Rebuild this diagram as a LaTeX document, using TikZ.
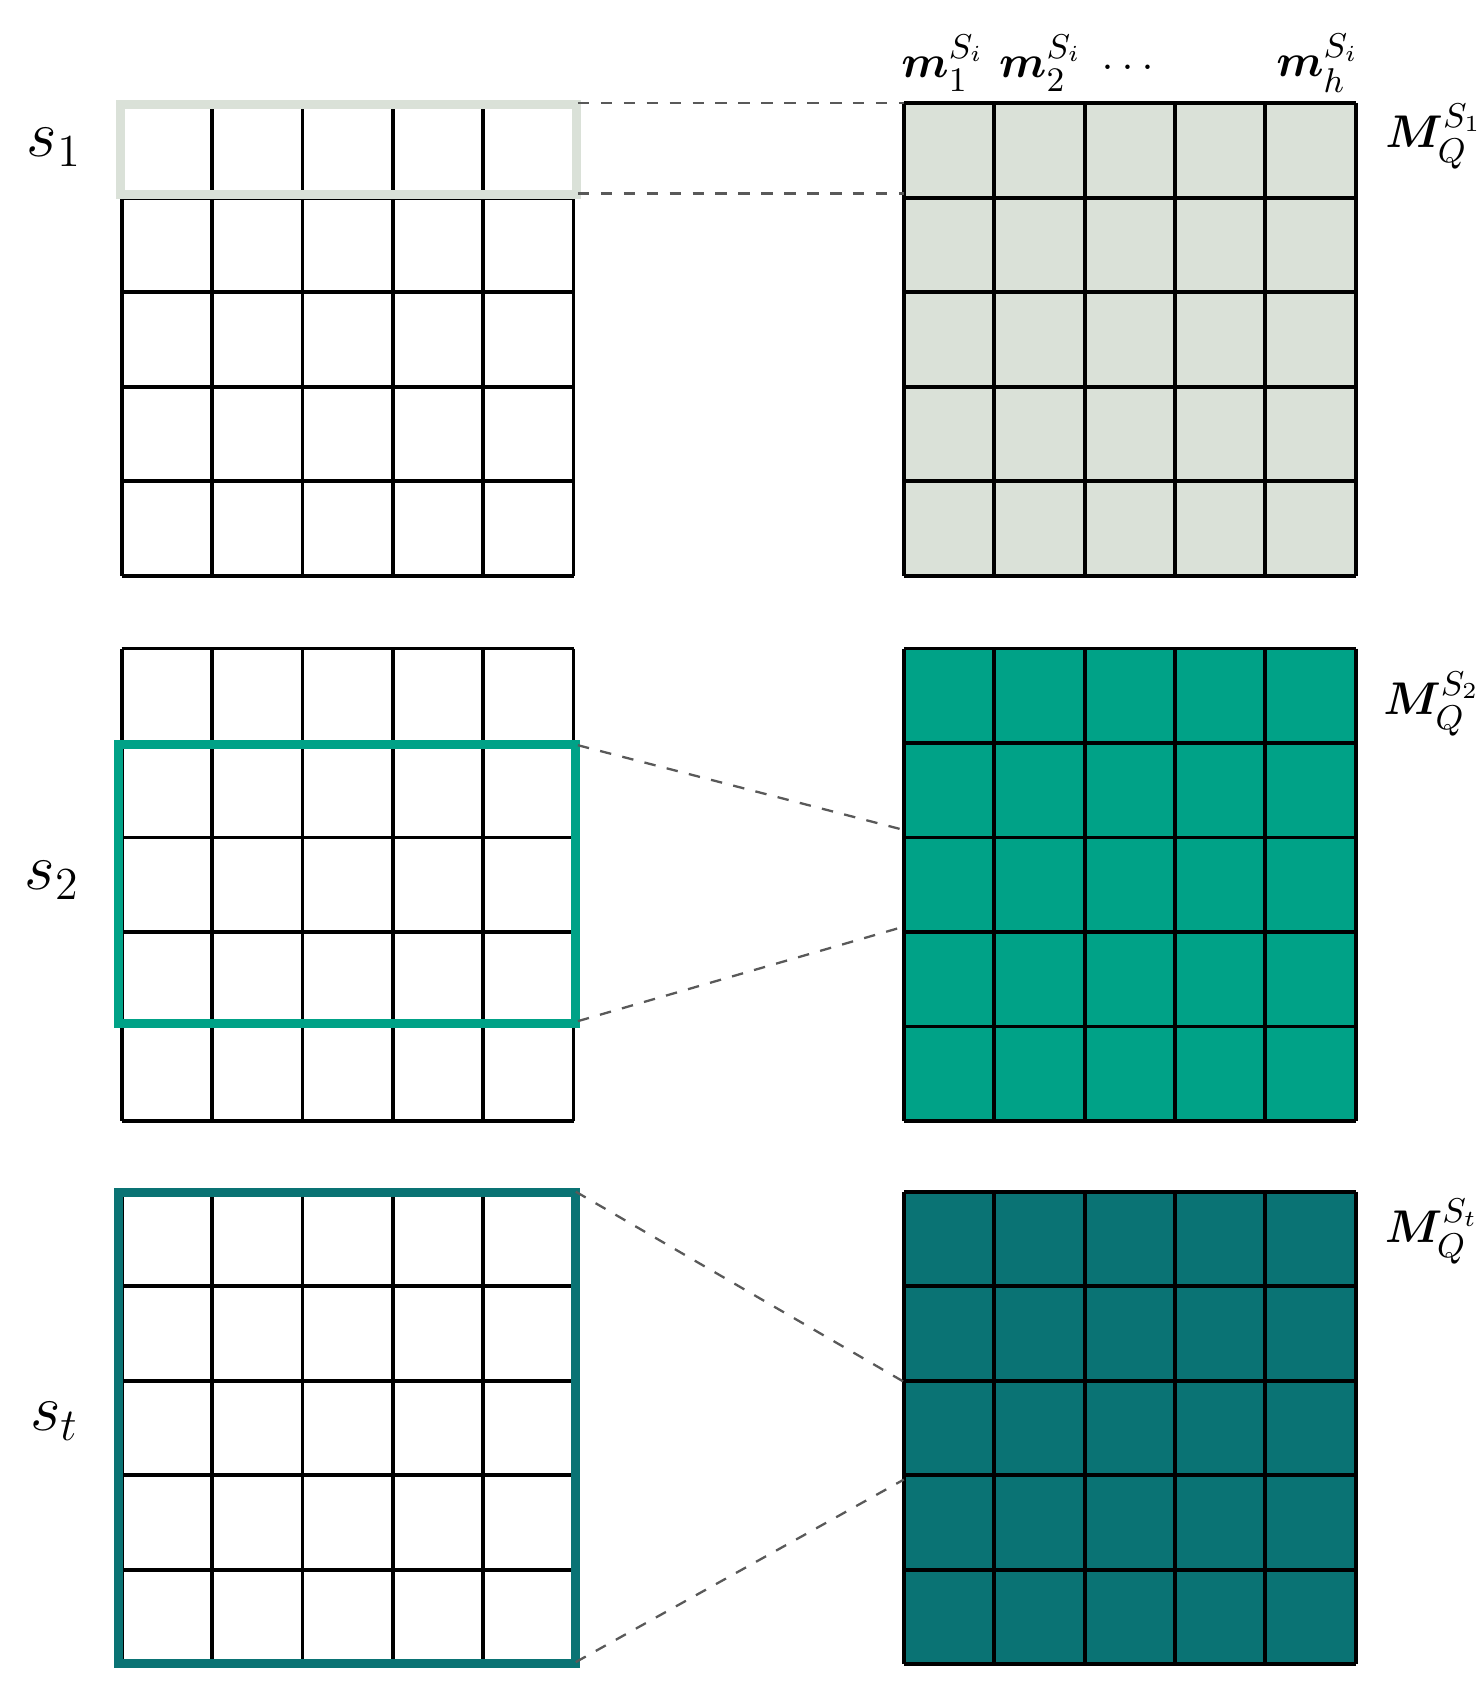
\documentclass[tikz,border=0pt]{standalone}
\usepackage{amsmath,bm}
\definecolor{cA}{HTML}{DAE1D8}
\definecolor{cB}{HTML}{00A287}
\definecolor{cC}{HTML}{0A7374}
\tikzset{gridline/.style={line width=1pt,black},
 hl/.style={line width=2.4pt},
 conn/.style={dashed,gray!70!black,line width=0.6pt},
 lab/.style={font=\fontsize{17}{20}\selectfont},
 mlab/.style={font=\fontsize{12.5}{15}\selectfont}}
\begin{document}
\begin{tikzpicture}[x=0.01cm,y=-0.01cm]
\useasboundingbox (0,0) rectangle (1366,1564);
% grids
\foreach \y/\c in {95/cA,597/cB,1097/cC}{
  \fill[\c] (832,\y) rectangle (1248,\y+435);
  \foreach \i in {0,...,5}{
    \draw[gridline] (112+\i*83.2,\y) -- (112+\i*83.2,\y+435);
    \draw[gridline] (112,\y+\i*87) -- (528,\y+\i*87);
    \draw[gridline] (832+\i*83.2,\y) -- (832+\i*83.2,\y+435);
    \draw[gridline] (832,\y+\i*87) -- (1248,\y+\i*87);
  }
}
% highlights
\draw[hl,cA] (111,96) rectangle (531,179);
\draw[hl,cB] (109,685) rectangle (530,942);
\draw[hl,cC] (109,1098) rectangle (530,1531);
% connector coordinates
\coordinate (a1) at (532,95); \coordinate (b1) at (832,95);
\coordinate (a2) at (532,178); \coordinate (b2) at (832,178);
\coordinate (a3) at (532,686); \coordinate (b3) at (832,764);
\coordinate (a4) at (532,940); \coordinate (b4) at (832,853);
\coordinate (a5) at (530,1097); \coordinate (b5) at (832,1272);
\coordinate (a6) at (530,1530); \coordinate (b6) at (832,1362);
\foreach \k in {1,...,6}{\draw[conn] (a\k) -- (b\k);}
% labels
\node[lab] (s1) at (50,136) {$s_1$};
\node[lab] (s2) at (48,810) {$s_2$};
\node[lab] (st) at (50,1308) {$s_t$};
\node[mlab] (M1) at (1320,126) {$\bm{M}_Q^{S_1}$};
\node[mlab] (M2) at (1318,648) {$\bm{M}_Q^{S_2}$};
\node[mlab] (Mt) at (1318,1134) {$\bm{M}_Q^{S_t}$};
\node[mlab] (m1) at (868,58) {$\bm{m}_1^{S_i}$};
\node[mlab] (m2) at (958,58) {$\bm{m}_2^{S_i}$};
\node[mlab] (md) at (1038,62) {$\ldots$};
\node[mlab] (mh) at (1213,58) {$\bm{m}_h^{S_i}$};
\end{tikzpicture}
\end{document}
